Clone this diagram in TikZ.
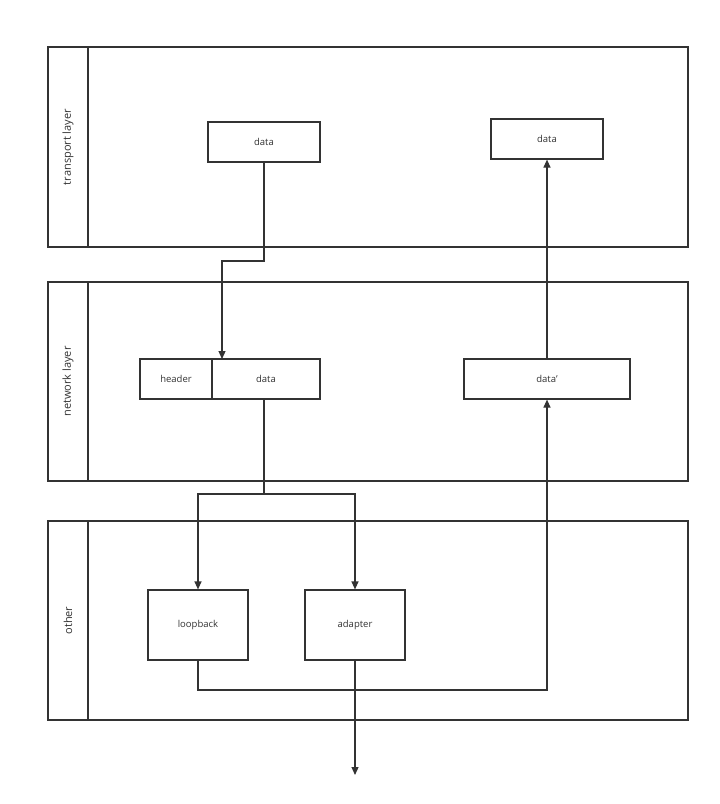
\documentclass[tikz,border=0pt]{standalone}
\usepackage{fontspec}
\setmainfont{Open Sans}
\usetikzlibrary{arrows.meta}
\definecolor{ln}{HTML}{333333}
\tikzset{
 box/.style={draw=ln,line width=1.2pt,inner sep=0pt,font=\fontsize{9.5}{11}\selectfont,text=ln},
 lane/.style={draw=ln,line width=1.2pt},
 conn/.style={draw=ln,line width=1.2pt,-{Triangle[length=8pt,width=7pt]}},
 plain/.style={draw=ln,line width=1.2pt},
 lbl/.style={rotate=90,font=\fontsize{11}{13}\selectfont,text=ln}
}
\begin{document}
\begin{tikzpicture}[x=1pt,y=-1pt]
\useasboundingbox[fill=white] (0,0) rectangle (720,804);
% lanes
\foreach \t/\b/\name in {47/247/transport layer,282/481/network layer,521/720/other}{
 \draw[lane] (48,\t) rectangle (688,\b);
 \draw[lane] (88,\t) -- (88,\b);
 \node[lbl] at (68,{(\t+\b)/2}) {\name};
}
\node[box,minimum width=112pt,minimum height=40pt] (d1) at (264,142) {data};
\node[box,minimum width=112pt,minimum height=40pt] (d2) at (547,139) {data};
\node[box,minimum width=72pt,minimum height=40pt] (hd) at (176,379) {header};
\node[box,minimum width=108pt,minimum height=40pt] (d3) at (266,379) {data};
\node[box,minimum width=166pt,minimum height=40pt] (dp) at (547,379) {data'};
\node[box,minimum width=100pt,minimum height=70pt] (lb) at (198,625) {loopback};
\node[box,minimum width=100pt,minimum height=70pt] (ad) at (355,625) {adapter};
\coordinate (out) at (355,775);
\draw[conn] (d1.south) -- (264,261) -- (222,261) -- (222,359);
\draw[plain] (264,399) -- (264,494);
\draw[conn] (264,494) -- (198,494) -- (lb.north);
\draw[conn] (264,494) -- (355,494) -- (ad.north);
\draw[conn] (lb.south) -- (198,690) -- (547,690) -- (dp.south);
\draw[conn] (dp.north) -- (d2.south);
\draw[conn] (ad.south) -- (out);
\end{tikzpicture}
\end{document}
